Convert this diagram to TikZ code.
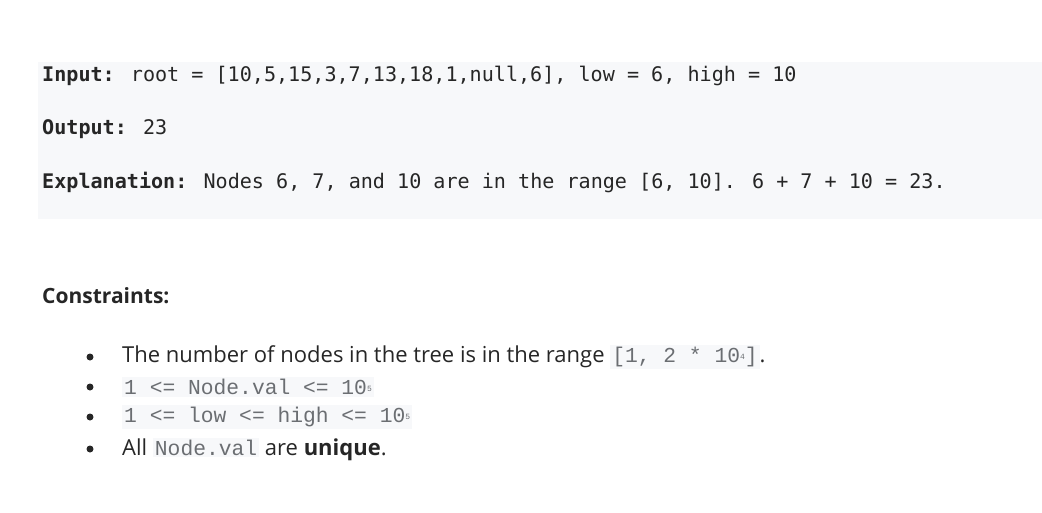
\documentclass[tikz,border=0pt]{standalone}
\usepackage{fontspec}
\setmainfont{Open Sans}
\newfontfamily\cmono{DejaVu Sans Mono}
\newfontfamily\lmono{Liberation Mono}
\definecolor{boxbg}{HTML}{F7F8FA}
\definecolor{txt}{HTML}{262626}
\definecolor{codec}{HTML}{6B6E72}
\tikzset{
  ex/.style={anchor=west,inner sep=0pt,text=txt,font=\cmono\fontsize{20.1}{22}\selectfont},
  sans/.style={anchor=west,inner sep=0pt,text=txt,font=\fontsize{22}{24}\selectfont},
  bul/.style={circle,fill=txt,inner sep=0pt,minimum size=7pt},
}
\newcommand{\cd}[1]{{\setlength{\fboxsep}{2pt}\colorbox{boxbg}{\lmono\fontsize{21.3}{22}\selectfont\color{codec}#1}}}
\newcommand{\sps}[1]{\raisebox{0.3ex}{\fontsize{8}{8}\selectfont #1}}
\begin{document}
\begin{tikzpicture}[x=1pt,y=-1pt]
\useasboundingbox (0,0) rectangle (1042,512);
\fill[boxbg] (38,62) rectangle (1042,219);
\node[ex] (in) at (42,76) {\textbf{Input:} root = [10,5,15,3,7,13,18,1,null,6], low = 6, high = 10};
\node[ex] (out) at (42,129) {\textbf{Output:} 23};
\node[ex] (expl) at (42,182) {\textbf{Explanation:} Nodes 6, 7, and 10 are in the range [6, 10]. 6 + 7 + 10 = 23.};
\node[sans,font=\bfseries\fontsize{21}{24}\selectfont] (cons) at (42,296) {Constraints:};
\node[bul] (b1) at (90,357) {};
\node[bul] (b2) at (90,387) {};
\node[bul] (b3) at (90,417) {};
\node[bul] (b4) at (90,449) {};
\node[sans] (t1) at (122,357) {The number of nodes in the tree is in the range \cd{[1, 2 * 10\sps{4}]}.};
\node[sans] (t2) at (122,387) {\cd{1 <= Node.val <= 10\sps{5}}};
\node[sans] (t3) at (122,417) {\cd{1 <= low <= high <= 10\sps{5}}};
\node[sans] (t4) at (122,449) {All \cd{Node.val} are \textbf{unique}.};
\end{tikzpicture}
\end{document}
